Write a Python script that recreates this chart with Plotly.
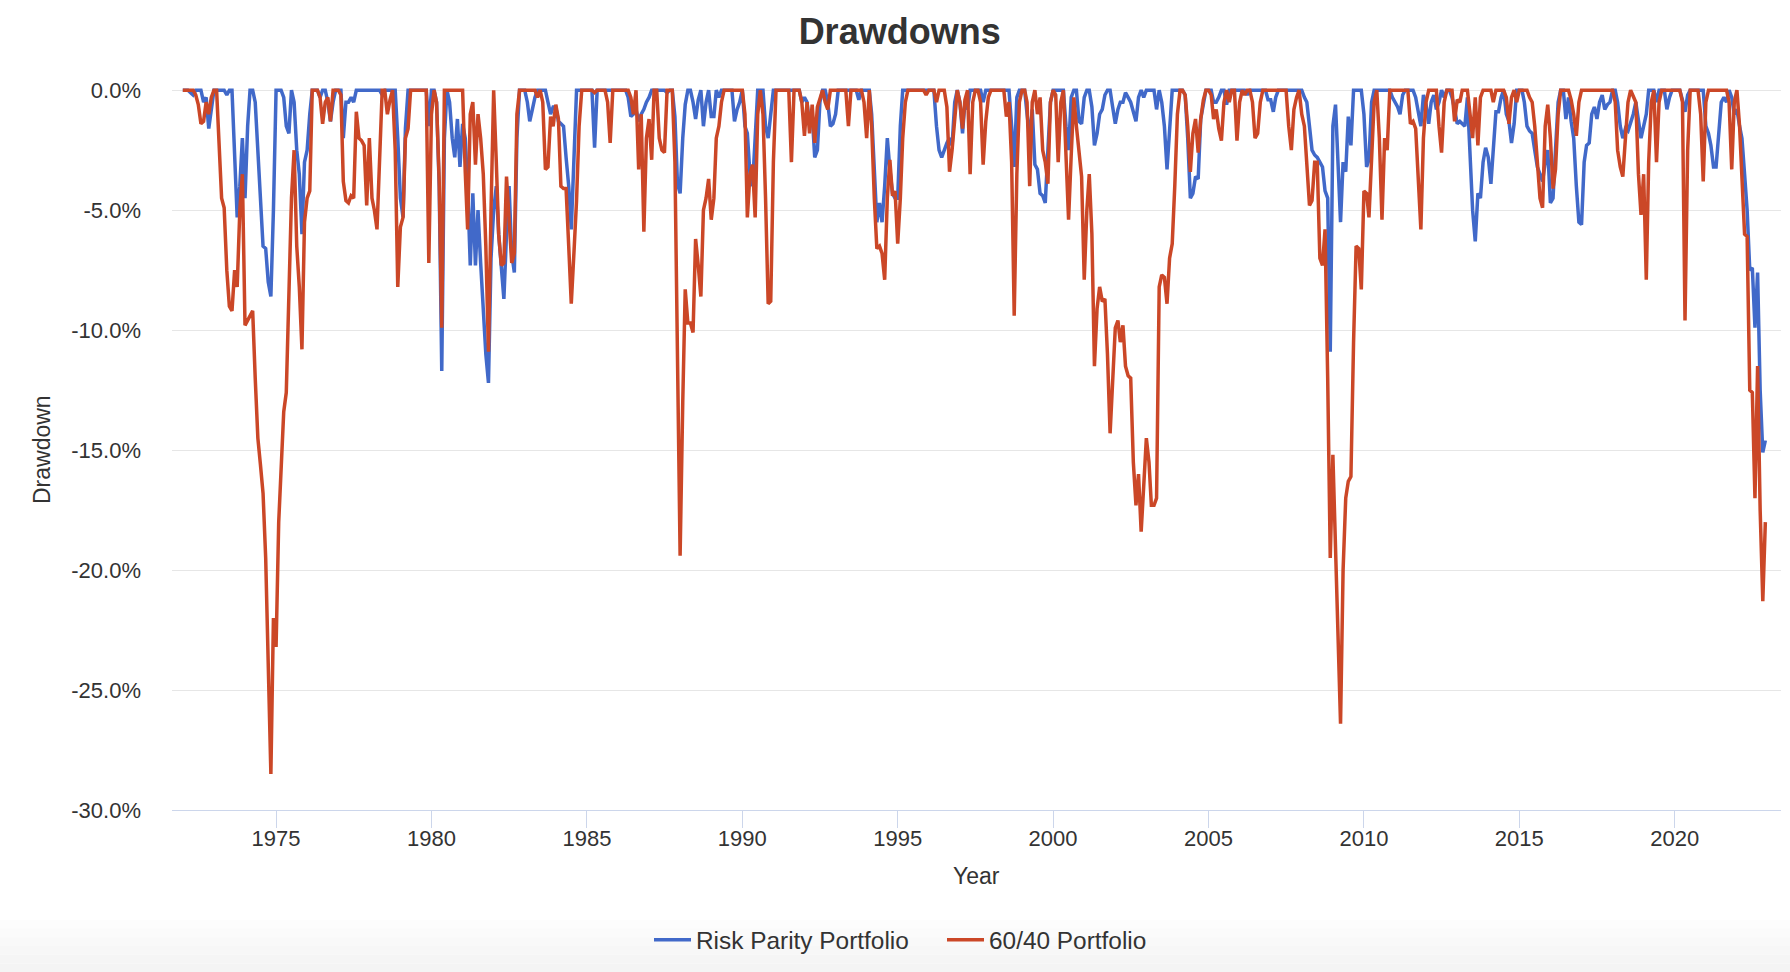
import pandas as pd
import plotly.graph_objects as go

# ---------------- data (monthly drawdowns, %) ----------------
start_month = "1972-01-01"

risk_parity = [
    0, 0, 0, -0.1, -0.2, 0, 0, 0, -0.5, -0.3, -1.6, -0.7,            # 1972
    0, 0, 0, 0, 0, -0.2, 0, 0, -3.0, -5.3, -4.0, -2.0,                # 1973
    -4.5, -1.5, 0, 0, -0.5, -2.5, -4.5, -6.5, -6.6, -8.0, -8.6, -5.0, # 1974
    0, 0, 0, -0.3, -1.5, -1.8, 0, -0.5, -2.5, -3.5, -6.0, -3.0,       # 1975
    -2.5, -1.0, 0, 0, 0, -0.3, 0, 0, -0.5, -1.3, -0.5, 0,             # 1976
    0, 0, -2.0, -0.5, -0.5, -0.3, -0.5, 0, 0, 0, 0, 0,                # 1977
    0, 0, 0, 0, 0, -0.2, 0, 0, 0, 0, 0, -2.0,                         # 1978
    -4.5, -5.3, -1.6, 0, 0, 0, 0, 0, 0, 0, 0, -1.5,                   # 1979
    0, 0, -0.5, -4.0, -11.7, -2.0, 0, -0.5, -2.0, -2.8, -1.2, -3.2,   # 1980
    -1.4, -2.0, -4.0, -7.3, -4.3, -7.3, -5.0, -7.2, -9.5, -11.0, -12.2, -7.0,  # 1981
    -5.0, -4.0, -6.0, -7.3, -8.7, -6.0, -4.0, -6.8, -7.6, -2.0, 0, 0, # 1982
    0, -0.5, -1.3, -0.8, -0.3, 0, 0, 0, 0, -0.5, -1.0, -0.7,          # 1983
    -0.7, -1.3, -1.4, -1.5, -2.8, -4.0, -5.8, -3.0, 0, 0, 0, 0,       # 1984
    0, 0, 0, -2.4, 0, 0, 0, 0, 0, 0, 0, 0,                            # 1985
    0, 0, 0, 0, -0.3, -1.1, -1.0, -0.8, -1.3, -1.0, -0.8, -0.5,       # 1986
    -0.3, 0, 0, 0, 0, 0, 0, -0.1, 0, 0, -1.1, -3.9,                   # 1987
    -4.3, -2.0, -0.6, 0, 0, -0.5, -1.2, -0.4, 0, -1.5, -0.5, 0,       # 1988
    -1.1, -1.1, 0, -0.3, 0, 0, 0, 0, 0, -1.3, -0.8, -0.5,             # 1989
    0, -1.5, -1.8, -3.5, -4.0, -2.0, 0, 0, 0, -1.5, -2.0, -1.0,       # 1990
    0, 0, 0, 0, 0, 0, 0, 0, 0, 0, 0, -0.5,                            # 1991
    -0.3, -0.5, -1.5, -1.0, -2.8, -2.5, -0.5, 0, 0, -0.5, -1.5, -1.4, # 1992
    -1.0, 0, 0, 0, 0, 0, 0, 0, 0, -0.4, 0, 0,                         # 1993
    0, 0, -1.0, -3.0, -5.5, -4.7, -5.5, -4.0, -2.0, -3.3, -4.3, -4.5, # 1994
    -4.5, -1.5, 0, 0, 0, 0, 0, 0, 0, 0, 0, 0,                         # 1995
    0, 0, 0, -1.5, -2.5, -2.8, -2.5, -2.2, -2.0, -2.3, -0.5, 0,       # 1996
    -0.5, -1.8, -0.5, -0.8, 0, 0, 0, 0, 0, -0.5, 0, 0,                # 1997
    0, 0, 0, 0, 0, 0, 0, 0, -1.5, -3.2, -0.3, 0,                      # 1998
    0, 0, -1.0, -2.0, -0.8, -3.1, -3.3, -4.3, -4.4, -4.7, -2.5, -0.5, # 1999
    0, 0, 0, 0, 0, -1.5, -2.5, -0.3, 0, 0, -1.3, -1.4,                # 2000
    -0.3, 0, 0, -0.7, -2.3, -1.8, -1.0, -0.8, -0.2, 0, 0, -0.7,       # 2001
    -1.4, -0.8, -0.5, -0.5, -0.1, -0.3, -0.5, -0.9, -1.3, -0.3, 0, -0.3,  # 2002
    0, 0, 0, 0, -0.8, 0, -0.5, -1.5, -3.3, -1.5, 0, 0,                # 2003
    0, 0, 0, -0.2, -2.0, -4.5, -4.3, -3.6, -3.7, -1.2, -0.5, 0,       # 2004
    0, 0, -0.5, -0.5, -0.3, 0, 0, -0.6, 0, 0, 0, 0,                   # 2005
    0, 0, 0, -0.2, 0, 0, 0, 0, 0, 0, 0, -0.4,                         # 2006
    -0.4, -0.9, -0.3, 0, 0, 0, 0, 0, 0, 0, 0, 0,                      # 2007
    0, -0.3, -0.5, -1.5, -2.5, -2.7, -2.8, -3.0, -3.2, -4.2, -4.5, -10.9,  # 2008
    -1.5, -0.6, -3.0, -5.5, -3.0, -3.4, -1.1, -2.3, 0, 0, 0, 0,       # 2009
    -1.0, -3.2, -2.9, -0.5, 0, 0, 0, 0, 0, 0, 0, -0.3,                # 2010
    -0.5, -0.7, -1.0, -0.2, 0, 0, 0, 0, -0.3, -1.0, -1.5, -0.2,       # 2011
    -0.6, -1.4, -0.5, -0.2, -0.8, -0.5, 0, -0.3, 0, 0, -0.3, -0.8,    # 2012
    -1.4, -1.3, -1.4, -1.5, -0.3, -3.0, -5.0, -6.3, -4.3, -4.5, -3.0, -2.4,  # 2013
    -2.8, -3.9, -2.5, -0.9, -0.9, -0.3, 0, -1.0, -1.3, -2.2, -1.4, 0, # 2014
    0, 0, -0.5, -1.5, -1.7, -1.8, -2.5, -3.2, -3.5, -3.8, -3.0, -2.5, # 2015
    -4.7, -4.5, -2.5, -0.5, 0, 0, -1.2, -0.3, -1.3, -2.0, -4.0, -5.5, # 2016
    -5.6, -3.0, -2.3, -2.2, -1.0, -0.7, -1.2, -0.5, -0.2, -0.8, -0.6, -0.5,  # 2017
    0, 0, -0.5, -1.5, -2.0, -1.6, -1.7, -1.4, -1.0, -0.5, -1.2, -2.0, # 2018
    -1.5, -1.0, 0, 0, 0, -0.5, 0, 0, 0, -0.8, -0.3, 0,                # 2019
    0, 0, 0, -0.4, -0.9, -0.2, 0, 0, 0, 0, 0, 0,                      # 2020
    -1.5, -1.8, -2.3, -3.2, -3.2, -2.0, -0.5, -0.3, -0.5, 0, -0.3, -1.0,  # 2021
    -0.8, -1.5, -2.0, -3.5, -5.0, -7.5, -7.4, -9.9, -7.6, -12.5, -15.1, -14.6,  # 2022
]

sixty_forty = [
    0, 0, 0, 0, 0, -0.2, -0.6, -1.4, -1.3, -0.5, -1.0, -0.3,          # 1972
    0, 0, -2.0, -4.5, -4.9, -7.5, -9.0, -9.2, -7.5, -8.2, -5.0, -3.5, # 1973
    -9.8, -9.6, -9.4, -9.2, -12.0, -14.5, -15.6, -16.8, -19.5, -24.0, -28.5, -22.0,  # 1974
    -23.2, -18.0, -15.6, -13.4, -12.6, -9.0, -4.5, -2.5, -6.5, -8.2, -10.8, -5.5,    # 1975
    -4.5, -4.2, 0, 0, 0, -0.3, -1.4, -0.5, -0.3, -1.3, 0, 0,          # 1976
    0, -0.2, -3.8, -4.6, -4.7, -4.4, -4.5, -0.9, -2.0, -2.1, -2.3, -4.8,  # 1977
    -2.0, -4.5, -5.0, -5.8, -3.0, 0, 0, -1.0, -0.4, 0, -2.5, -8.2,    # 1978
    -5.7, -5.3, -2.0, -1.6, 0, 0, 0, 0, 0, 0, 0, -7.2,                # 1979
    -1.0, 0, -0.5, -3.8, -9.9, 0, 0, 0, 0, 0, 0, 0,                   # 1980
    0, -3.4, -5.8, -1.0, -0.5, -3.1, -1.0, -2.0, -3.5, -6.5, -10.9, -5.0,  # 1981
    0, -3.0, -6.0, -7.3, -7.2, -3.6, -5.5, -7.2, -6.8, -1.0, 0, 0,    # 1982
    0, 0, 0, 0, 0, -0.3, 0, -0.5, -3.3, -3.2, -1.1, -1.5,             # 1983
    -0.6, -1.2, -4.0, -4.1, -4.1, -6.5, -8.9, -6.8, -4.6, -1.5, 0, 0, # 1984
    0, 0, 0, -0.1, 0, 0, 0, 0, -0.5, -2.2, 0, 0,                      # 1985
    0, 0, 0, 0, 0, -0.3, -1.0, 0, -3.3, -1.0, -5.9, -2.0,             # 1986
    -1.2, -2.9, 0, 0, -2.0, -2.5, -2.6, 0, 0, 0, -3.0, -11.0,         # 1987
    -19.4, -13.0, -8.3, -9.7, -9.7, -10.1, -6.2, -7.3, -8.6, -5.0, -4.5, -3.7,  # 1988
    -5.4, -4.5, -2.0, -1.5, -0.5, 0, 0, 0, 0, 0, 0, 0,                # 1989
    0, -1.0, -5.3, -3.5, -3.1, -5.3, -1.0, 0, -1.0, -4.5, -8.9, -8.8, # 1990
    -3.0, 0, 0, 0, 0, 0, 0, -3.0, 0, 0, 0, -0.5,                      # 1991
    -1.9, -0.5, -1.8, -0.6, -2.2, -0.7, -0.3, 0, -0.5, -0.8, 0, 0,    # 1992
    0, 0, 0, 0, 0, -1.5, 0, 0, 0, 0, 0, -0.5,                         # 1993
    -2.0, 0, -1.5, -4.5, -6.6, -6.5, -6.8, -7.9, -4.5, -2.9, -4.4, -4.2,  # 1994
    -6.4, -4.5, -2.0, -0.5, 0, 0, 0, 0, 0, 0, 0, -0.2,                # 1995
    0, 0, 0, -0.5, 0, 0, 0, -0.7, -3.4, -2.5, -1.0, 0,                # 1996
    -0.5, -1.6, -0.4, 0, -3.5, -0.5, 0, 0, -0.5, -3.1, -1.3, -0.3,    # 1997
    0, 0, 0, 0, 0, 0, -1.1, -0.5, -3.0, -9.4, -3.5, -0.5,             # 1998
    0, 0, -0.5, -4.0, -0.5, 0, -1.0, -0.3, -2.5, -3.0, -3.9, -0.5,    # 1999
    0, -0.2, -3.0, -0.5, 0, -3.0, -5.4, -2.7, -0.3, -1.5, -2.5, -3.6, # 2000
    -7.9, -5.0, -3.5, -6.0, -11.5, -9.1, -8.2, -8.8, -8.7, -11.0, -14.3, -12.0,  # 2001
    -9.9, -9.6, -10.5, -9.8, -11.5, -11.9, -12.0, -15.5, -17.3, -16.0, -18.4, -16.5,  # 2002
    -14.5, -15.5, -17.3, -17.3, -17.0, -8.2, -7.7, -7.8, -8.9, -7.0, -6.4, -4.0,  # 2003
    -1.0, 0, 0, -0.2, -1.5, -3.4, -1.8, -1.2, -2.6, -1.2, -0.4, 0,    # 2004
    0, -0.2, -1.2, -0.8, -1.6, -2.1, -0.5, 0, -0.5, 0, 0, -2.1,       # 2005
    -0.5, 0, -0.2, 0, 0, -0.5, -2.0, -1.8, -0.5, 0, 0, 0,             # 2006
    0, 0, 0, 0, 0, 0, 0, -1.5, -2.5, -0.8, -0.3, 0,                   # 2007
    -1.0, -1.5, -3.0, -4.8, -4.6, -3.0, -3.0, -7.0, -7.3, -5.8, -12.0, -19.5,  # 2008
    -15.2, -19.1, -23.4, -26.4, -20.0, -17.0, -16.3, -16.1, -10.5, -6.5, -6.6, -8.3,  # 2009
    -4.2, -4.3, -5.3, -2.5, -0.5, 0, -2.0, -5.4, -2.0, -2.5, 0, 0,    # 2010
    0, 0, 0, 0, 0, 0, -1.4, -1.3, -1.6, -4.0, -5.8, -2.0,             # 2011
    -0.5, 0, 0, 0, 0, -1.5, -2.6, -0.5, 0, 0, 0, -1.3,                # 2012
    -0.4, -0.5, 0, 0, 0, -1.0, -2.0, -0.3, -2.3, -0.3, 0, 0,          # 2013
    0, 0, -0.5, 0, 0, 0, 0, -0.3, -1.4, -0.3, 0, -0.5,                # 2014
    0, 0, 0, 0, -0.3, -0.5, -1.5, -3.0, -4.5, -4.9, -1.5, -0.6,       # 2015
    -2.0, -4.1, -3.3, -1.0, 0, 0, 0, 0, -0.4, -1.0, -1.9, -0.5,       # 2016
    0, 0, 0, 0, 0, 0, 0, 0, 0, 0, 0, 0,                               # 2017
    0, -0.5, -2.5, -3.2, -3.6, -2.0, -0.5, 0, -0.3, -0.5, -3.5, -5.2, # 2018
    -3.5, -7.9, -3.0, -0.5, 0, -3.0, -0.5, 0, 0, 0, 0, 0,             # 2019
    0, 0, 0, -0.5, -9.6, -2.5, 0, 0, 0, 0, -1.0, -3.8,                # 2020
    -0.5, 0, 0, 0, 0, 0, 0, 0, 0, -0.5, -3.3, -0.5,                   # 2021
    0, -1.5, -4.0, -6.0, -6.1, -12.5, -12.6, -17.0, -11.5, -17.5, -21.3, -18.0,  # 2022
]

series_names = ["Risk Parity Portfolio", "60/40 Portfolio"]
x_tick_years = [1975, 1980, 1985, 1990, 1995, 2000, 2005, 2010, 2015, 2020]
y_tick_values = [0, -5, -10, -15, -20, -25, -30]
y_tick_labels = ["0.0%", "-5.0%", "-10.0%", "-15.0%", "-20.0%", "-25.0%", "-30.0%"]

assert len(risk_parity) == len(sixty_forty)
months = pd.date_range(start_month, periods=len(risk_parity), freq="MS")

# ---------------- styling ----------------
W, H = 1790, 972
ML, MR, MT, MB = 172, 9, 83, 162
PH = H - MT - MB
FONT = "Liberation Sans, Arial, Helvetica, sans-serif"
BLUE = "#4169c9"
RED = "#cb4727"
TXT = "#333333"

def py(full_y):
    return (H - MB - full_y) / PH

fig = go.Figure()
fig.add_trace(go.Scatter(x=months, y=risk_parity, mode="lines", name=series_names[0],
                         line=dict(color=BLUE, width=3.5)))
fig.add_trace(go.Scatter(x=months, y=sixty_forty, mode="lines", name=series_names[1],
                         line=dict(color=RED, width=3.5)))

shapes = []
grad = ["#fdfdfd", "#fbfbfb", "#f9f9f9", "#f7f7f7", "#f5f5f5", "#f4f4f4"]
band_top = 920
step = (H - band_top) / len(grad)
for i, c in enumerate(grad):
    shapes.append(dict(type="rect", xref="paper", yref="paper",
                       x0=-0.2, x1=1.1, y0=py(band_top + (i + 1) * step), y1=py(band_top + i * step),
                       fillcolor=c, line=dict(width=0), layer="below"))

fig.update_layout(
    width=W, height=H,
    margin=dict(l=ML, r=MR, t=MT, b=MB),
    paper_bgcolor="white", plot_bgcolor="white",
    font=dict(family=FONT, color=TXT),
    title=dict(text="Drawdowns", font=dict(size=36, weight="bold", color=TXT, family=FONT),
               x=0.5026, xref="container", xanchor="center",
               y=1 - 31 / H, yref="container", yanchor="middle"),
    showlegend=True,
    legend=dict(orientation="h", xref="container", x=649 / W, xanchor="left",
                yref="container", y=1 - 940 / H, yanchor="middle",
                itemwidth=37, entrywidth=241, entrywidthmode="pixels",
                font=dict(size=24.4, color=TXT, family=FONT), bgcolor="rgba(0,0,0,0)"),
    xaxis=dict(type="date", range=["1971-08-27", "2023-06-03"],
               tickvals=[f"{y}-01-01" for y in x_tick_years],
               ticktext=[str(y) for y in x_tick_years],
               ticks="outside", ticklen=17, tickcolor="#ccd6eb", tickwidth=1,
               ticklabelstandoff=-8,
               showline=True, linecolor="#ccd6eb", linewidth=1,
               showgrid=False, zeroline=False,
               tickfont=dict(size=22, color=TXT, family=FONT)),
    yaxis=dict(range=[-30, 0.3], tickvals=y_tick_values, ticktext=y_tick_labels,
               showgrid=True, gridcolor="#e6e6e6", gridwidth=1,
               zeroline=False, showline=False, ticks="",
               ticklabelstandoff=30,
               tickfont=dict(size=22, color=TXT, family=FONT)),
    shapes=shapes,
    annotations=[
        dict(text="Year", xref="paper", yref="paper", x=0.5, y=py(876),
             xanchor="center", yanchor="middle", showarrow=False,
             font=dict(size=23, color=TXT, family=FONT)),
        dict(text="Drawdown", xref="paper", yref="paper", x=(42 - ML) / (W - ML - MR), y=py(450),
             xanchor="center", yanchor="middle", textangle=-90, showarrow=False,
             font=dict(size=23, color=TXT, family=FONT)),
    ],
)

fig.write_html("out.html")
